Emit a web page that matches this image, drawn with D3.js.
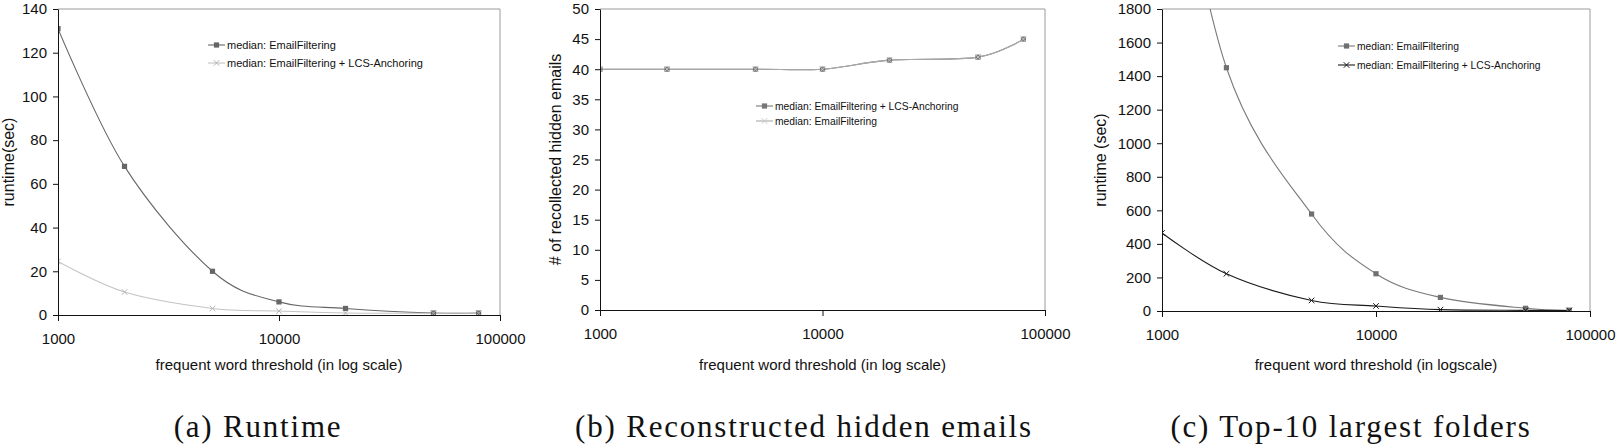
<!DOCTYPE html>
<html>
<head>
<meta charset="utf-8">
<script src="https://cdn.jsdelivr.net/npm/d3@7"></script>
<style>
  body { margin: 0; background: #fff; }
  svg { display: block; }
  text { font-family: "Liberation Sans", Arial, sans-serif; fill: #111; }
  .caption { font-family: "Liberation Serif", "Times New Roman", serif; }
</style>
</head>
<body>
<div id="chart"></div>
<script>
// Data
const thresholds = [1000, 2000, 5000, 10000, 20000, 50000, 80000];
const xTicks = [1000, 10000, 100000];

// (a) runtime, sec
const runtimeFiltering = [131, 68, 20, 6, 3, 0.9, 0.9];
const runtimeAnchoring = [24.5, 10.5, 3, 1.8, 0.9, 0.8, 0.8];
const runtimeTicks = [0, 20, 40, 60, 80, 100, 120, 140];

// (b) recollected hidden emails
const recollectedAnchoring = [40, 40, 40, 40, 41.5, 42, 45];
const recollectedFiltering = [40, 40, 40, 40, 41.5, 42, 45];
const recollectedTicks = [0, 5, 10, 15, 20, 25, 30, 35, 40, 45, 50];

// (c) top-10 largest folders, runtime in sec
const folderFiltering = [3200, 1450, 578, 222, 81, 16, 5];
const folderAnchoring = [465, 222, 63, 30, 8, 4, 3];
const folderTicks = [0, 200, 400, 600, 800, 1000, 1200, 1400, 1600, 1800];

const W = 1619, H = 444;

const svg = d3.select("#chart").append("svg")
  .attr("width", W)
  .attr("height", H);

const panels = [
  {
    key: "a", left: 58, right: 500, top: 9, bottom: 315,
    yMax: 140, yTicks: runtimeTicks,
    yTitle: "runtime(sec)", yTitleX: 8, yTitleSize: 16,
    xTitle: "frequent word threshold (in log scale)",
    caption: "(a) Runtime", captionX: 258,
    legend: { x: 208, y: 45, dy: 18, size: 11 },
    series: [
      { name: "median: EmailFiltering", values: runtimeFiltering, stroke: "#666", marker: "square", mfill: "#666" },
      { name: "median: EmailFiltering + LCS-Anchoring", values: runtimeAnchoring, stroke: "#c4c4c4", marker: "cross", mfill: "#b4b4b4" }
    ]
  },
  {
    key: "b", left: 600, right: 1045, top: 9, bottom: 310,
    yMax: 50, yTicks: recollectedTicks,
    yTitle: "# of recollected hidden emails", yTitleX: 555, yTitleSize: 16,
    xTitle: "frequent word threshold (in log scale)",
    caption: "(b) Reconstructed hidden emails", captionX: 804,
    legend: { x: 756, y: 106, dy: 15, size: 10.3 },
    series: [
      { name: "median: EmailFiltering + LCS-Anchoring", values: recollectedAnchoring, stroke: "#777", marker: "square", mfill: "#777" },
      { name: "median: EmailFiltering", values: recollectedFiltering, stroke: "#aaa", marker: "cross", mfill: "#c8c8c8" }
    ]
  },
  {
    key: "c", left: 1162, right: 1590, top: 9, bottom: 311,
    yMax: 1800, yTicks: folderTicks,
    yTitle: "runtime (sec)", yTitleX: 1100, yTitleSize: 16,
    xTitle: "frequent word threshold (in logscale)",
    caption: "(c) Top-10 largest folders", captionX: 1351,
    legend: { x: 1338, y: 46, dy: 19, size: 10.3 },
    series: [
      { name: "median: EmailFiltering", values: folderFiltering, stroke: "#7a7a7a", marker: "square", mfill: "#707070" },
      { name: "median: EmailFiltering + LCS-Anchoring", values: folderAnchoring, stroke: "#1a1a1a", marker: "cross", mfill: "#1a1a1a" }
    ]
  }
];

function drawMarker(g, type, cx, cy, color) {
  if (type === "square") {
    g.append("rect")
      .attr("x", cx - 2.6).attr("y", cy - 2.6)
      .attr("width", 5.2).attr("height", 5.2)
      .attr("fill", color);
  } else {
    g.append("path")
      .attr("d", `M${cx - 2.8},${cy - 2.8}L${cx + 2.8},${cy + 2.8}M${cx - 2.8},${cy + 2.8}L${cx + 2.8},${cy - 2.8}`)
      .attr("stroke", color)
      .attr("stroke-width", 1)
      .attr("fill", "none");
  }
}

panels.forEach(p => {
  const x = d3.scaleLog().domain([1000, 100000]).range([p.left, p.right]);
  const y = d3.scaleLinear().domain([0, p.yMax]).range([p.bottom, p.top]);
  const g = svg.append("g").attr("class", "panel-" + p.key);

  // frame (top and right)
  g.append("path")
    .attr("d", `M${p.left},${p.top}H${p.right}V${p.bottom}`)
    .attr("fill", "none")
    .attr("stroke", "#9a9a9a")
    .attr("stroke-width", 1);

  // clip to plot area
  const clipId = "clip-" + p.key;
  g.append("clipPath").attr("id", clipId)
    .append("rect")
    .attr("x", p.left).attr("y", p.top)
    .attr("width", p.right - p.left).attr("height", p.bottom - p.top);

  const line = d3.line()
    .x((d, i) => x(thresholds[i]))
    .y(d => y(d))
    .curve(d3.curveCardinal.tension(0));

  p.series.forEach(s => {
    g.append("path")
      .datum(s.values)
      .attr("clip-path", `url(#${clipId})`)
      .attr("d", line)
      .attr("fill", "none")
      .attr("stroke", s.stroke)
      .attr("stroke-width", 1.1);
  });

  p.series.forEach(s => {
    const mg = g.append("g").attr("clip-path", `url(#${clipId})`);
    s.values.forEach((v, i) => {
      if (v <= p.yMax) drawMarker(mg, s.marker, x(thresholds[i]), y(v), s.mfill);
    });
  });

  // axes
  const yAxis = g.append("g")
    .attr("transform", `translate(${p.left},0)`)
    .call(d3.axisLeft(y).tickValues(p.yTicks).tickFormat(d3.format("d"))
      .tickSize(5).tickSizeOuter(0).tickPadding(6));
  const xAxis = g.append("g")
    .attr("transform", `translate(0,${p.bottom})`)
    .call(d3.axisBottom(x).tickValues(xTicks).tickFormat(d3.format("d"))
      .tickSize(6).tickSizeOuter(0).tickPadding(12));

  [yAxis, xAxis].forEach(a => {
    a.select(".domain").attr("stroke", "#111");
    a.selectAll(".tick line").attr("stroke", "#111");
    a.selectAll(".tick text")
      .attr("font-family", "Liberation Sans, Arial, sans-serif")
      .attr("font-size", 15)
      .attr("fill", "#111");
  });

  // axis titles
  g.append("text")
    .attr("x", (p.left + p.right) / 2)
    .attr("y", 370)
    .attr("text-anchor", "middle")
    .attr("font-size", 15)
    .text(p.xTitle);

  g.append("text")
    .attr("transform", `translate(${p.yTitleX},${(p.top + p.bottom) / 2}) rotate(-90)`)
    .attr("dy", "0.35em")
    .attr("text-anchor", "middle")
    .attr("font-size", p.yTitleSize)
    .text(p.yTitle);

  // legend
  const lg = g.append("g");
  p.series.forEach((s, i) => {
    const ly = p.legend.y + i * p.legend.dy;
    lg.append("line")
      .attr("x1", p.legend.x).attr("x2", p.legend.x + 17)
      .attr("y1", ly).attr("y2", ly)
      .attr("stroke", s.stroke).attr("stroke-width", 1.1);
    drawMarker(lg, s.marker, p.legend.x + 8.5, ly, s.mfill);
    lg.append("text")
      .attr("x", p.legend.x + 19)
      .attr("y", ly)
      .attr("dy", "0.35em")
      .attr("font-size", p.legend.size)
      .attr("fill", "#222")
      .text(s.name);
  });

  // caption
  g.append("text")
    .attr("class", "caption")
    .attr("x", p.captionX)
    .attr("y", 437)
    .attr("text-anchor", "middle")
    .attr("font-size", 31)
    .attr("letter-spacing", "1.8px")
    .text(p.caption);
});
</script>
</body>
</html>
